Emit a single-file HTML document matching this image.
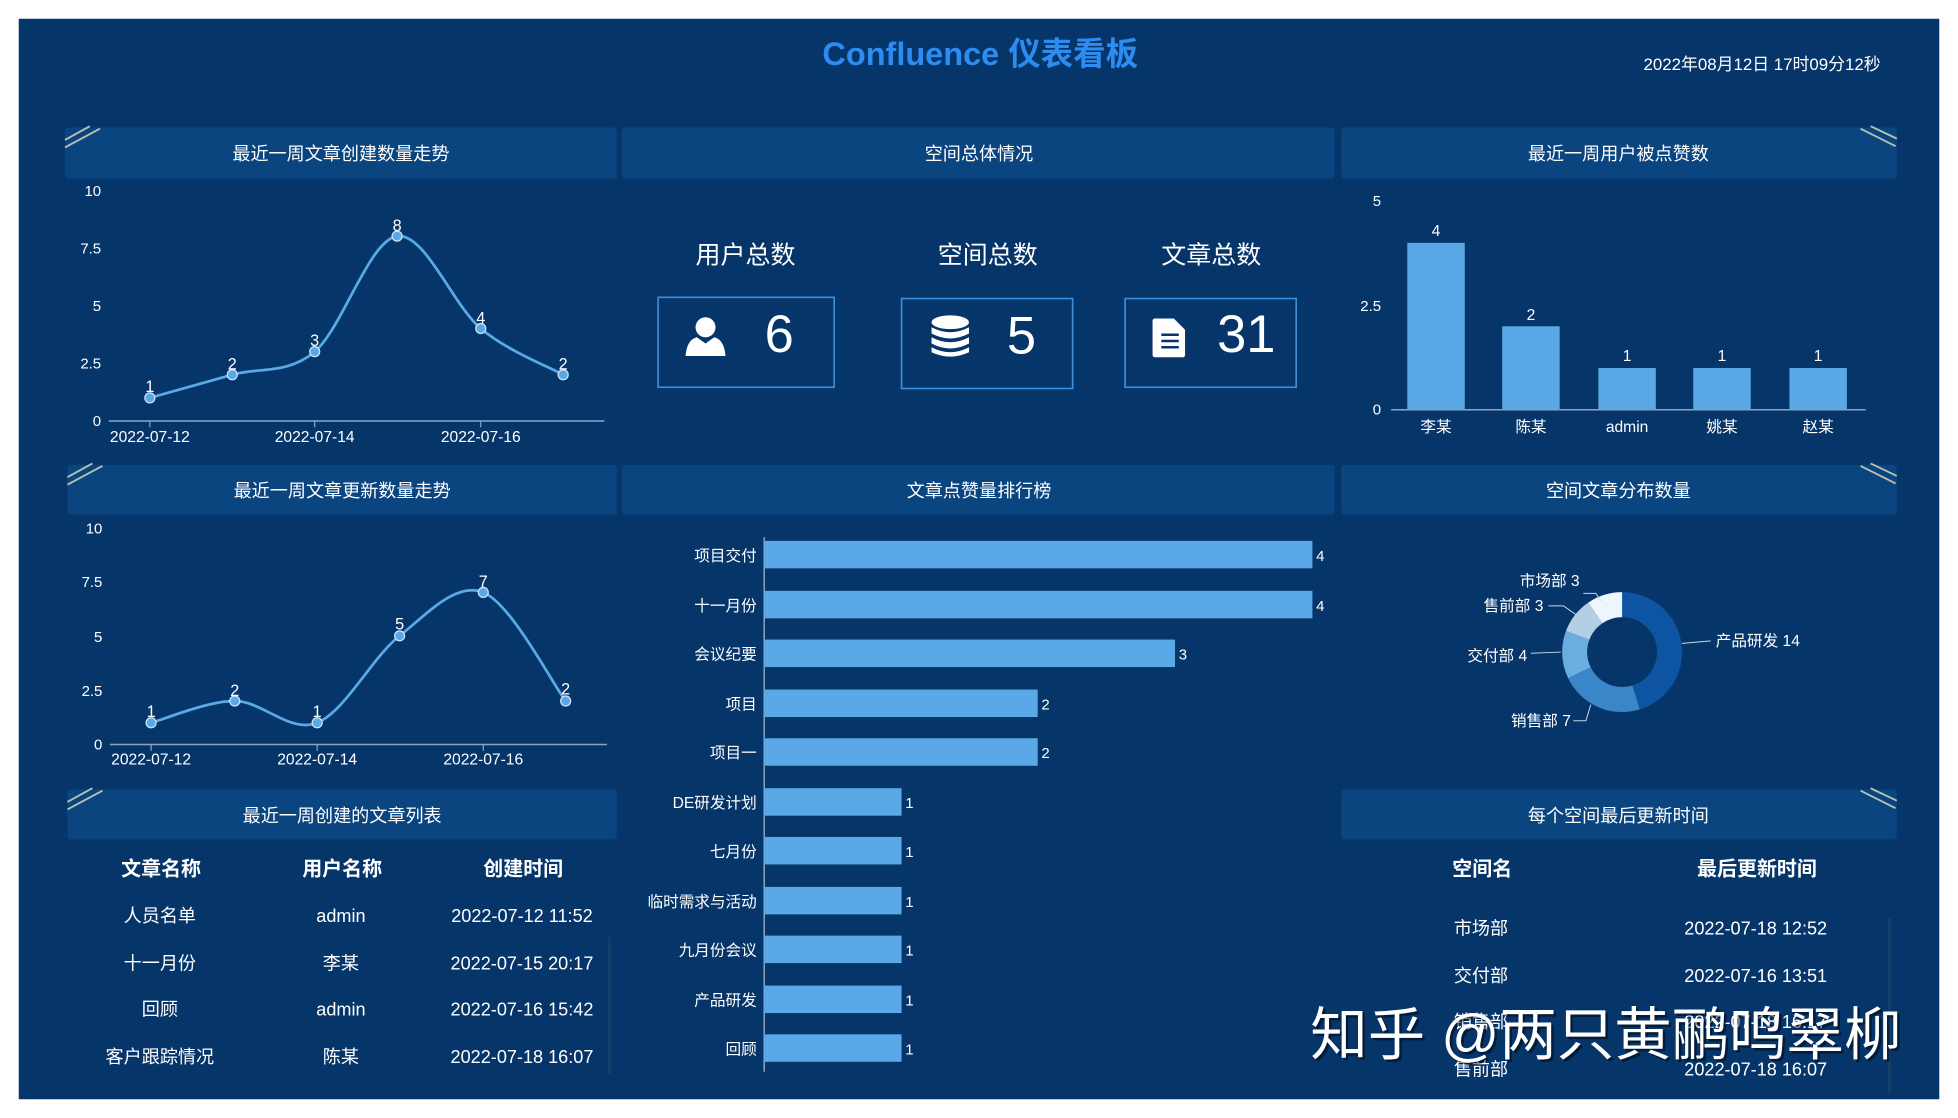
<!DOCTYPE html>
<html><head><meta charset="utf-8"><style>
html,body{margin:0;padding:0;background:#fff;width:1958px;height:1118px;overflow:hidden}
svg{display:block}
text{font-family:"Liberation Sans","Noto Sans CJK SC",sans-serif;fill:#fff}
</style></head><body>
<svg width="1958" height="1118" viewBox="0 0 1568 895" preserveAspectRatio="none" xmlns="http://www.w3.org/2000/svg">
<rect x="0" y="0" width="1568" height="895" fill="#fff"/>
<rect x="15" y="15" width="1538" height="865" fill="#06356a"/>
<text x="785" y="52" font-size="26" font-weight="bold" text-anchor="middle" style="fill:#2d8cf0">Confluence 仪表看板</text>
<text x="1506" y="56" font-size="13.5" text-anchor="end">2022年08月12日 17时09分12秒</text>

<g fill="#0a4580">
<rect x="52" y="102" width="442" height="41" rx="3"/>
<rect x="498" y="102" width="571" height="41" rx="3"/>
<rect x="1074" y="102" width="445" height="41" rx="3"/>
<rect x="54" y="372" width="440" height="40" rx="3"/>
<rect x="498" y="372" width="571" height="40" rx="3"/>
<rect x="1074" y="372" width="445" height="40" rx="3"/>
<rect x="54" y="632" width="440" height="40" rx="3"/>
<rect x="1074" y="632" width="445" height="40" rx="3"/>
</g>
<g stroke="#b9c2b0" stroke-width="1.5">
<line x1="52" y1="112" x2="72" y2="101"/><line x1="52" y1="118" x2="80" y2="103"/>
<line x1="54" y1="382" x2="74" y2="371"/><line x1="54" y1="388" x2="82" y2="373"/>
<line x1="54" y1="642" x2="74" y2="631"/><line x1="54" y1="648" x2="82" y2="633"/>
<line x1="1490" y1="103" x2="1518" y2="117"/><line x1="1498" y1="101" x2="1519" y2="111"/>
<line x1="1490" y1="373" x2="1518" y2="387"/><line x1="1498" y1="371" x2="1519" y2="381"/>
<line x1="1490" y1="633" x2="1518" y2="647"/><line x1="1498" y1="631" x2="1519" y2="641"/>
</g>
<g font-size="14.5" text-anchor="middle">
<text x="273" y="128">最近一周文章创建数量走势</text>
<text x="784" y="128">空间总体情况</text>
<text x="1296" y="128">最近一周用户被点赞数</text>
<text x="274" y="398">最近一周文章更新数量走势</text>
<text x="784" y="398">文章点赞量排行榜</text>
<text x="1296" y="398">空间文章分布数量</text>
<text x="274" y="658">最近一周创建的文章列表</text>
<text x="1296" y="658">每个空间最后更新时间</text>
</g>

<!-- chart1 -->
<g font-size="12" text-anchor="end">
<text x="81" y="157">10</text><text x="81" y="203">7.5</text><text x="81" y="249">5</text><text x="81" y="295">2.5</text><text x="81" y="341">0</text>
</g>
<line x1="87" y1="337" x2="484" y2="337" stroke="#8da3bf" stroke-width="1.2"/>
<g stroke="#8da3bf"><line x1="120" y1="337" x2="120" y2="342"/><line x1="252" y1="337" x2="252" y2="342"/><line x1="385" y1="337" x2="385" y2="342"/></g>
<g font-size="12.5" text-anchor="middle"><text x="120" y="354">2022-07-12</text><text x="252" y="354">2022-07-14</text><text x="385" y="354">2022-07-16</text></g>
<path d="M120,318.5 C131,315.4 164,306.2 186,300 C208,293.8 230,300 252,281.5 C274,263 295.8,192.1 318,189 C340.2,185.9 362.8,244.5 385,263 C407.2,281.5 440,293.8 451,300" fill="none" stroke="#5aa9e6" stroke-width="2.2"/>
<g fill="#5aa9e6" stroke="#cfe4f7" stroke-width="1"><circle cx="120" cy="318.5" r="4"/><circle cx="186" cy="300" r="4"/><circle cx="252" cy="281.5" r="4"/><circle cx="318" cy="189" r="4"/><circle cx="385" cy="263" r="4"/><circle cx="451" cy="300" r="4"/></g>
<g font-size="13" text-anchor="middle"><text x="120" y="314">1</text><text x="186" y="296">2</text><text x="252" y="277">3</text><text x="318" y="185">8</text><text x="385" y="259">4</text><text x="451" y="296">2</text></g>

<!-- chart2 -->
<g font-size="12" text-anchor="end">
<text x="82" y="427">10</text><text x="82" y="470">7.5</text><text x="82" y="514">5</text><text x="82" y="557">2.5</text><text x="82" y="600">0</text>
</g>
<line x1="88" y1="596" x2="486" y2="596" stroke="#8da3bf" stroke-width="1.2"/>
<g stroke="#8da3bf"><line x1="121" y1="596" x2="121" y2="601"/><line x1="254" y1="596" x2="254" y2="601"/><line x1="387" y1="596" x2="387" y2="601"/></g>
<g font-size="12.5" text-anchor="middle"><text x="121" y="612">2022-07-12</text><text x="254" y="612">2022-07-14</text><text x="387" y="612">2022-07-16</text></g>
<path d="M121,578.6 C132.2,575.7 165.8,561.2 188,561.2 C210.2,561.2 232,587.3 254,578.6 C276,569.9 297.8,526.4 320,509 C342.2,491.6 364.8,465.5 387,474.2 C409.2,483 442,546.7 453,561.2" fill="none" stroke="#5aa9e6" stroke-width="2.2"/>
<g fill="#5aa9e6" stroke="#cfe4f7" stroke-width="1"><circle cx="121" cy="578.6" r="4"/><circle cx="188" cy="561.2" r="4"/><circle cx="254" cy="578.6" r="4"/><circle cx="320" cy="509" r="4"/><circle cx="387" cy="474.2" r="4"/><circle cx="453" cy="561.2" r="4"/></g>
<g font-size="13" text-anchor="middle"><text x="121" y="574">1</text><text x="188" y="557">2</text><text x="254" y="574">1</text><text x="320" y="504">5</text><text x="387" y="470">7</text><text x="453" y="556">2</text></g>

<!-- stats -->
<g font-size="20" text-anchor="middle"><text x="597" y="211">用户总数</text><text x="791" y="211">空间总数</text><text x="970" y="211">文章总数</text></g>
<g fill="none" stroke="#3b8fdc" stroke-width="1.3">
<rect x="527" y="238" width="141" height="72"/><rect x="722" y="239" width="137" height="72"/><rect x="901" y="239" width="137" height="71"/>
</g>
<g fill="#fff">
<circle cx="565" cy="262" r="8"/><path d="M549,285 Q550,272 558,270 L565,275 L572,270 Q580,272 581,285 Z"/>
<ellipse cx="761" cy="258" rx="15" ry="5.5"/>
<path d="M746,262 q15,8 30,0 v5 q-15,8 -30,0z M746,270 q15,8 30,0 v5 q-15,8 -30,0z M746,278 q15,8 30,0 v4 q-15,7 -30,0z"/>
<path d="M925,255 h15 l9,9 v20 q0,2 -2,2 h-22 q-2,0 -2,-2 v-27 q0,-2 2,-2z"/>
</g>
<g stroke="#06356a" stroke-width="2"><line x1="930" y1="268" x2="944" y2="268"/><line x1="930" y1="273" x2="944" y2="273"/><line x1="930" y1="278" x2="944" y2="278"/></g>
<g font-size="42" text-anchor="middle"><text x="624" y="282">6</text><text x="818" y="283">5</text><text x="998" y="282">31</text></g>

<!-- user likes bar -->
<g font-size="12" text-anchor="end"><text x="1106" y="165">5</text><text x="1106" y="249">2.5</text><text x="1106" y="332">0</text></g>
<line x1="1114" y1="328" x2="1494" y2="328" stroke="#8da3bf" stroke-width="1.2"/>
<g fill="#5aa9e6">
<rect x="1127" y="194.4" width="46" height="133.6"/><rect x="1203" y="261.2" width="46" height="66.8"/><rect x="1280" y="294.6" width="46" height="33.4"/><rect x="1356" y="294.6" width="46" height="33.4"/><rect x="1433" y="294.6" width="46" height="33.4"/>
</g>
<g font-size="12.5" text-anchor="middle">
<text x="1150" y="189">4</text><text x="1226" y="256">2</text><text x="1303" y="289">1</text><text x="1379" y="289">1</text><text x="1456" y="289">1</text>
<text x="1150" y="346">李某</text><text x="1226" y="346">陈某</text><text x="1303" y="346">admin</text><text x="1379" y="346">姚某</text><text x="1456" y="346">赵某</text>
</g>

<!-- article likes horizontal -->
<line x1="612" y1="430" x2="612" y2="858" stroke="#8da3bf" stroke-width="1.2"/>
<g fill="#5aa9e6">
<rect x="612" y="433" width="439" height="22"/><rect x="612" y="473" width="439" height="22"/><rect x="612" y="512" width="329" height="22"/>
<rect x="612" y="552" width="219" height="22"/><rect x="612" y="591" width="219" height="22"/>
<rect x="612" y="631" width="110" height="22"/><rect x="612" y="670" width="110" height="22"/><rect x="612" y="710" width="110" height="22"/><rect x="612" y="749" width="110" height="22"/><rect x="612" y="789" width="110" height="22"/><rect x="612" y="828" width="110" height="22"/>
</g>
<g font-size="12.5" text-anchor="end">
<text x="606" y="449">项目交付</text><text x="606" y="489">十一月份</text><text x="606" y="528">会议纪要</text><text x="606" y="568">项目</text><text x="606" y="607">项目一</text><text x="606" y="647">DE研发计划</text><text x="606" y="686">七月份</text><text x="606" y="726">临时需求与活动</text><text x="606" y="765">九月份会议</text><text x="606" y="805">产品研发</text><text x="606" y="844">回顾</text>
</g>
<g font-size="12">
<text x="1054" y="449">4</text><text x="1054" y="489">4</text><text x="944" y="528">3</text><text x="834" y="568">2</text><text x="834" y="607">2</text><text x="725" y="647">1</text><text x="725" y="686">1</text><text x="725" y="726">1</text><text x="725" y="765">1</text><text x="725" y="805">1</text><text x="725" y="844">1</text>
</g>

<!-- donut -->
<g transform="rotate(-90 1299 522)" fill="none" stroke-width="20">
<circle cx="1299" cy="522" r="38" stroke="#0d55a3" stroke-dasharray="107.8 300" stroke-dashoffset="0"/>
<circle cx="1299" cy="522" r="38" stroke="#3a86c9" stroke-dasharray="53.9 300" stroke-dashoffset="-107.8"/>
<circle cx="1299" cy="522" r="38" stroke="#6aaddf" stroke-dasharray="30.8 300" stroke-dashoffset="-161.7"/>
<circle cx="1299" cy="522" r="38" stroke="#b4cfe3" stroke-dasharray="23.1 300" stroke-dashoffset="-192.5"/>
<circle cx="1299" cy="522" r="38" stroke="#eef5fc" stroke-dasharray="23.1 300" stroke-dashoffset="-215.6"/>
</g>
<g fill="none" stroke="#c9d6e6" stroke-width="0.8">
<polyline points="1347,515 1370,513"/><polyline points="1282,481 1278,475 1268,475"/><polyline points="1262,492 1252,485 1240,485"/><polyline points="1250,522 1226,523"/><polyline points="1274,564 1270,577 1260,577"/>
</g>
<g font-size="12.5">
<text x="1374" y="517">产品研发 14</text>
<text x="1265" y="469" text-anchor="end">市场部 3</text>
<text x="1236" y="489" text-anchor="end">售前部 3</text>
<text x="1223" y="529" text-anchor="end">交付部 4</text>
<text x="1258" y="581" text-anchor="end">销售部 7</text>
</g>

<!-- left table -->
<g font-size="16" font-weight="bold" text-anchor="middle"><text x="129" y="701">文章名称</text><text x="274" y="701">用户名称</text><text x="419" y="701">创建时间</text></g>
<g font-size="14.5" text-anchor="middle">
<text x="128" y="738">人员名单</text><text x="273" y="738">admin</text><text x="418" y="738">2022-07-12 11:52</text>
<text x="128" y="776">十一月份</text><text x="273" y="776">李某</text><text x="418" y="776">2022-07-15 20:17</text>
<text x="128" y="813">回顾</text><text x="273" y="813">admin</text><text x="418" y="813">2022-07-16 15:42</text>
<text x="128" y="851">客户跟踪情况</text><text x="273" y="851">陈某</text><text x="418" y="851">2022-07-18 16:07</text>
</g>
<rect x="487" y="750" width="2" height="110" fill="#183f6a"/>

<!-- right table -->
<g font-size="16" font-weight="bold" text-anchor="middle"><text x="1187" y="701">空间名</text><text x="1407" y="701">最后更新时间</text></g>
<g font-size="14.5" text-anchor="middle">
<text x="1186" y="748">市场部</text><text x="1406" y="748">2022-07-18 12:52</text>
<text x="1186" y="786">交付部</text><text x="1406" y="786">2022-07-16 13:51</text>
<text x="1186" y="823">销售部</text><text x="1406" y="823">2022-07-18 16:17</text>
<text x="1186" y="861">售前部</text><text x="1406" y="861">2022-07-18 16:07</text>
</g>
<rect x="1512" y="735" width="2" height="140" fill="#183f6a"/>

<!-- watermark -->
<text x="1288" y="846" font-size="46" text-anchor="middle" style="fill:#000;opacity:0.45">知乎 @两只黄鹂鸣翠柳</text>
<text x="1286" y="844" font-size="46" text-anchor="middle">知乎 @两只黄鹂鸣翠柳</text>
</svg>
</body></html>
